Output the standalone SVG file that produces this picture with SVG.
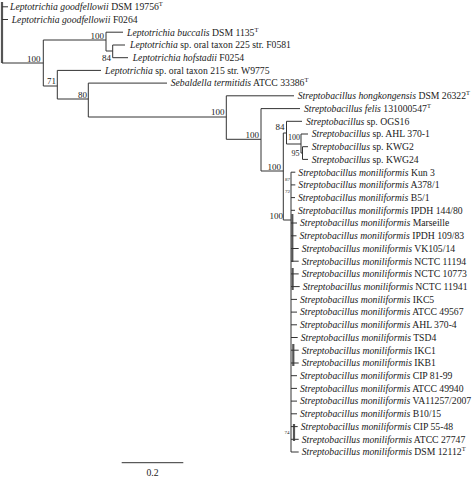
<svg xmlns="http://www.w3.org/2000/svg" width="474" height="479" viewBox="0 0 474 479">
<style>
text{font-family:"Liberation Serif","Times New Roman",serif;fill:#1a1a1a}
.lf{font-size:9.7px}
.i{font-style:italic}
.sup{font-size:6.5px}
.bs{font-size:9px;text-anchor:end}
.bs2{font-size:8px;text-anchor:end}
.bs3{font-size:5px;text-anchor:end}
#connectors path{fill:none;stroke:#333;stroke-width:1}
.thick{stroke:#555 !important;stroke-width:2.2 !important}
</style>
<rect width="474" height="479" fill="#fff"/>
<g id="connectors">
<path class="thick" d="M2,2V63"/>
<path d="M2,6.8H8M2,19.5H8M2,63H43.3"/>
<path d="M43.3,40V86M43.3,40H106M106,32.2V51M106,32.2H123M106,51H112.7M112.7,45V57.7M112.7,45H125M112.7,57.7H128"/>
<path d="M43.3,86H57.3M57.3,70.4V99M57.3,70.4H101M57.3,99H88.3M88.3,83.1V117M88.3,83.1H167"/>
<path d="M88.3,117H226.3M226.3,95.8V139.3M226.3,95.8H294M226.3,139.3H261M261,108.6V171M261,108.6H300"/>
<path d="M261,171H283.3M283.3,133V220M283.3,133H286.5M286.5,121.3V144M286.5,121.3H302M286.5,144H301M301,134V153M301,134H308M301,153H302.5M302.5,146.7V159.4M302.5,146.7H308M302.5,159.4H308"/>
<path d="M283.3,220H291M291,172.2V452"/>
<path class="thick" d="M292.3,214V262M292.6,268V290M293.3,344V366M294,424V441"/>
<path d="M291,172.2H295.3M291,184.9H295.3M291,197.6H295M291,210.3H295M291,223H297M291,235.8H296.5M291,248.5H298.7M291,261.2H298.7M291,273.9H298.7M291,286.6H299.7M291,299.4H297M291,312.1H297M291,324.8H297M291,337.5H297.7M291,350.2H298.7M291,363H298.7M291,375.7H297M291,388.4H297M291,401.1H297M291,413.8H297M291,426.6H297.7M291,439.3H298.7M291,452H298.7"/>
<path d="M121.7,462.7H183.3"/>
</g>
<g id="internal-nodes">
<g id="n-root"><text class="bs" x="40.5" y="61.5">100</text></g>
<g id="n-lepto"><text class="bs" x="104" y="38.8">100</text></g>
<g id="n-84a"><text class="bs" x="111" y="60.5">84</text></g>
<g id="n-71"><text class="bs" x="56" y="83.5">71</text></g>
<g id="n-80"><text class="bs" x="87" y="97.5">80</text></g>
<g id="n-strepto"><text class="bs" x="224.5" y="115">100</text></g>
<g id="n-felis"><text class="bs" x="259" y="138">100</text></g>
<g id="n-core"><text class="bs" x="281" y="169.5">100</text></g>
<g id="n-84b"><text class="bs" x="284.5" y="130">84</text></g>
<g id="n-ahl"><text class="bs2" x="300" y="139.5">100</text></g>
<g id="n-kwg"><text class="bs2" x="299.5" y="155.5">95</text></g>
<g id="n-monil"><text class="bs" x="283" y="218.5">100</text></g>
<g id="n-87"><text class="bs3" x="290" y="180.5">87</text></g>
<g id="n-72"><text class="bs3" x="290" y="193">72</text></g>
<g id="n-74"><text class="bs3" x="289.5" y="433.5">74</text></g>
</g>
<g id="leaves">
<g id="t0"><text class="lf" x="10" y="10.1"><tspan class="i">Leptotrichia goodfellowii</tspan> DSM 19756<tspan class="sup" dy="-4">T</tspan></text></g>
<g id="t1"><text class="lf" x="11.7" y="22.8"><tspan class="i">Leptotrichia goodfellowii</tspan> F0264</text></g>
<g id="t2"><text class="lf" x="127" y="35.5"><tspan class="i">Leptotrichia buccalis</tspan> DSM 1135<tspan class="sup" dy="-4">T</tspan></text></g>
<g id="t3"><text class="lf" x="130" y="48.3"><tspan class="i">Leptotrichia</tspan> sp. oral taxon 225 str. F0581</text></g>
<g id="t4"><text class="lf" x="132.7" y="61"><tspan class="i">Leptotrichia hofstadii</tspan> F0254</text></g>
<g id="t5"><text class="lf" x="105" y="73.7"><tspan class="i">Leptotrichia</tspan> sp. oral taxon 215 str. W9775</text></g>
<g id="t6"><text class="lf" x="170.7" y="86.4"><tspan class="i">Sebaldella termitidis</tspan> ATCC 33386<tspan class="sup" dy="-4">T</tspan></text></g>
<g id="t7"><text class="lf" x="297.7" y="99.1"><tspan class="i">Streptobacillus hongkongensis</tspan> DSM 26322<tspan class="sup" dy="-4">T</tspan></text></g>
<g id="t8"><text class="lf" x="304" y="111.9"><tspan class="i">Streptobacillus felis</tspan> 131000547<tspan class="sup" dy="-4">T</tspan></text></g>
<g id="t9"><text class="lf" x="306" y="124.6"><tspan class="i">Streptobacillus</tspan> sp. OGS16</text></g>
<g id="t10"><text class="lf" x="311.7" y="137.3"><tspan class="i">Streptobacillus</tspan> sp. AHL 370-1</text></g>
<g id="t11"><text class="lf" x="311.7" y="150"><tspan class="i">Streptobacillus</tspan> sp. KWG2</text></g>
<g id="t12"><text class="lf" x="311.7" y="162.7"><tspan class="i">Streptobacillus</tspan> sp. KWG24</text></g>
<g id="t13"><text class="lf" x="298.3" y="175.5"><tspan class="i">Streptobacillus moniliformis</tspan> Kun 3</text></g>
<g id="t14"><text class="lf" x="298.3" y="188.2"><tspan class="i">Streptobacillus moniliformis</tspan> A378/1</text></g>
<g id="t15"><text class="lf" x="298" y="200.9"><tspan class="i">Streptobacillus moniliformis</tspan> B5/1</text></g>
<g id="t16"><text class="lf" x="298" y="213.6"><tspan class="i">Streptobacillus moniliformis</tspan> IPDH 144/80</text></g>
<g id="t17"><text class="lf" x="300" y="226.3"><tspan class="i">Streptobacillus moniliformis</tspan> Marseille</text></g>
<g id="t18"><text class="lf" x="299.5" y="239.1"><tspan class="i">Streptobacillus moniliformis</tspan> IPDH 109/83</text></g>
<g id="t19"><text class="lf" x="301.7" y="251.8"><tspan class="i">Streptobacillus moniliformis</tspan> VK105/14</text></g>
<g id="t20"><text class="lf" x="301.7" y="264.5"><tspan class="i">Streptobacillus moniliformis</tspan> NCTC 11194</text></g>
<g id="t21"><text class="lf" x="301.7" y="277.2"><tspan class="i">Streptobacillus moniliformis</tspan> NCTC 10773</text></g>
<g id="t22"><text class="lf" x="302.7" y="289.9"><tspan class="i">Streptobacillus moniliformis</tspan> NCTC 11941</text></g>
<g id="t23"><text class="lf" x="300" y="302.7"><tspan class="i">Streptobacillus moniliformis</tspan> IKC5</text></g>
<g id="t24"><text class="lf" x="300" y="315.4"><tspan class="i">Streptobacillus moniliformis</tspan> ATCC 49567</text></g>
<g id="t25"><text class="lf" x="300" y="328.1"><tspan class="i">Streptobacillus moniliformis</tspan> AHL 370-4</text></g>
<g id="t26"><text class="lf" x="300.7" y="340.8"><tspan class="i">Streptobacillus moniliformis</tspan> TSD4</text></g>
<g id="t27"><text class="lf" x="301.7" y="353.5"><tspan class="i">Streptobacillus moniliformis</tspan> IKC1</text></g>
<g id="t28"><text class="lf" x="301.7" y="366.3"><tspan class="i">Streptobacillus moniliformis</tspan> IKB1</text></g>
<g id="t29"><text class="lf" x="300" y="379"><tspan class="i">Streptobacillus moniliformis</tspan> CIP 81-99</text></g>
<g id="t30"><text class="lf" x="300" y="391.7"><tspan class="i">Streptobacillus moniliformis</tspan> ATCC 49940</text></g>
<g id="t31"><text class="lf" x="300" y="404.4"><tspan class="i">Streptobacillus moniliformis</tspan> VA11257/2007</text></g>
<g id="t32"><text class="lf" x="300" y="417.1"><tspan class="i">Streptobacillus moniliformis</tspan> B10/15</text></g>
<g id="t33"><text class="lf" x="300.7" y="429.9"><tspan class="i">Streptobacillus moniliformis</tspan> CIP 55-48</text></g>
<g id="t34"><text class="lf" x="301.7" y="442.6"><tspan class="i">Streptobacillus moniliformis</tspan> ATCC 27747</text></g>
<g id="t35"><text class="lf" x="301.7" y="455.3"><tspan class="i">Streptobacillus moniliformis</tspan> DSM 12112<tspan class="sup" dy="-4">T</tspan></text></g>
</g>
<g id="scale"><text class="lf" x="152.5" y="476" text-anchor="middle">0.2</text></g>
</svg>
